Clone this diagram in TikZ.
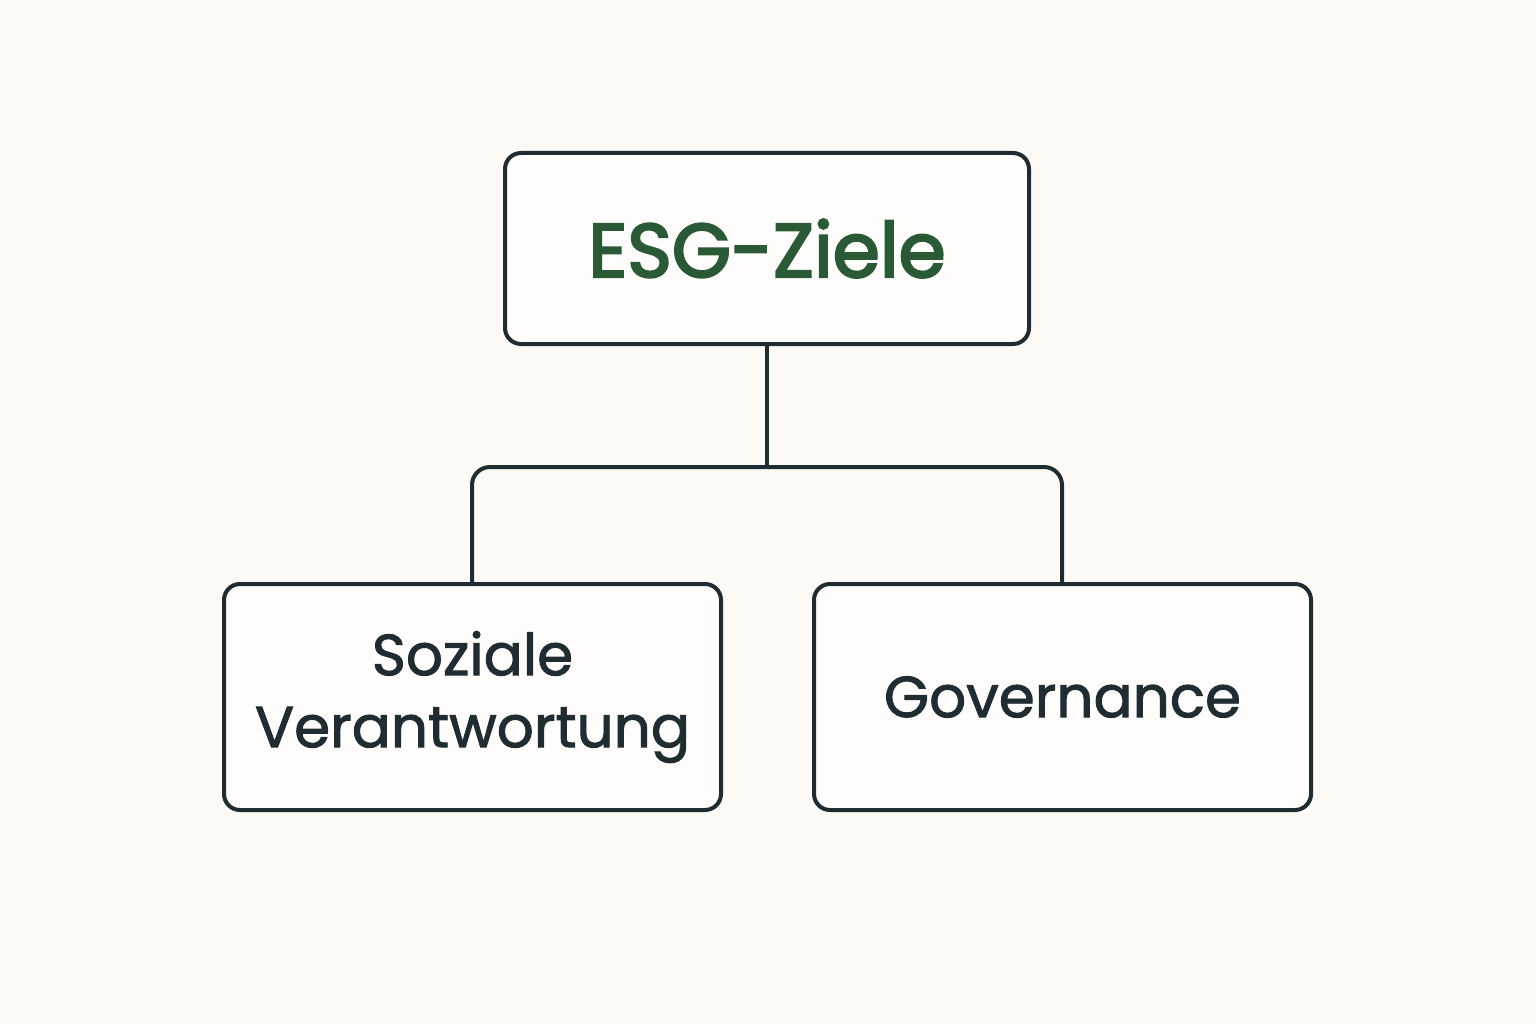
\documentclass[tikz,border=0pt]{standalone}
\usepackage{fontspec}
\setmainfont{Poppins}
\newfontfamily\medfont{Poppins}[FakeBold=1.6]
\newfontfamily\semifont{Poppins}[FakeBold=3]
\definecolor{bg}{HTML}{FCFAF5}
\definecolor{ink}{HTML}{1F2D33}
\definecolor{grn}{HTML}{2A5A35}
\begin{document}
\begin{tikzpicture}[x=1pt,y=-1pt,
  box/.style={draw=ink,line width=4pt,rounded corners=16pt,fill=white!60!bg,inner sep=0pt},
  conn/.style={draw=ink,line width=4pt}]
\fill[bg] (0,0) rectangle (1536,1024);
\useasboundingbox (0,0) rectangle (1536,1024);
\node[box,minimum width=524pt,minimum height=191pt] (T) at (767,248.5) {};
\node[text=grn,font=\fontsize{76}{80}\selectfont\semifont] at (T) {ESG-Ziele};
\node[box,minimum width=497pt,minimum height=226pt] (L) at (472.5,697) {};
\node[text=ink,font=\fontsize{58}{72}\selectfont\medfont,align=center] at (L) {Soziale\\Verantwortung};
\node[box,minimum width=497pt,minimum height=226pt] (R) at (1062.5,697) {};
\node[text=ink,font=\fontsize{58}{72}\selectfont\medfont] at (R) {Governance};
\coordinate (J) at (767,467);
\coordinate (JL) at (472,467);
\coordinate (JR) at (1062,467);
\draw[conn] (T.south) -- (J);
\draw[conn,rounded corners=18pt] (L.north -| JL) -- (JL) -- (JR) -- (R.north -| JR);
\end{tikzpicture}
\end{document}
